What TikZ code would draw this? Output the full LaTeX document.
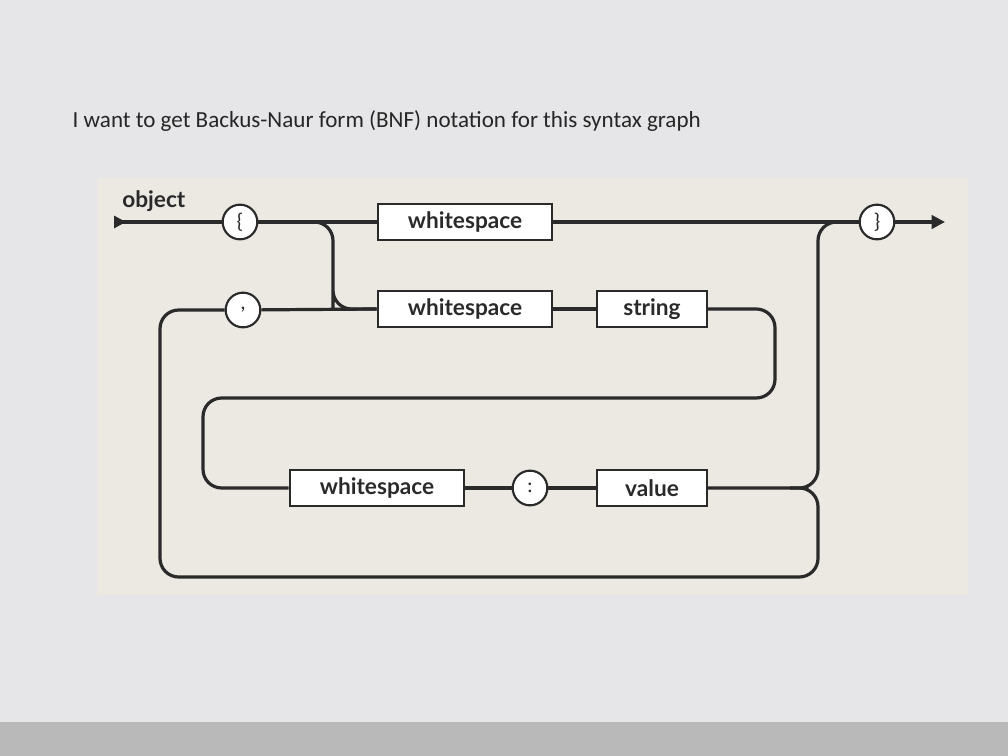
\documentclass[tikz,border=0pt]{standalone}
\usepackage{fontspec}
\setmainfont{Carlito}
\newfontfamily\gfont{Lato}
\usetikzlibrary{arrows.meta}
\definecolor{bg}{HTML}{E6E6E8}
\definecolor{panel}{HTML}{ECE9E2}
\definecolor{ln}{HTML}{2A2A2A}
\tikzset{
  box/.style={draw=ln,line width=1.6pt,fill=white,minimum height=27pt,inner xsep=6pt,font=\gfont\bfseries\fontsize{17}{20}\selectfont,text=ln},
  circ/.style={draw=ln,line width=1.6pt,fill=white,circle,minimum size=26pt,inner sep=0pt,font=\fontsize{16}{18}\selectfont,text=ln},
  rail/.style={draw=ln,line width=2.4pt,rounded corners=14pt},
}
\begin{document}
\begin{tikzpicture}[x=0.75pt,y=-0.75pt]
\fill[bg] (0,0) rectangle (1008,756);
\fill[gray!55] (0,722) rectangle (1008,756);
\fill[panel] (97,178) rectangle (968,595);
\node[anchor=west,font=\fontsize{17.3}{20}\selectfont,text=black!85] (title) at (68,121) {I want to get Backus-Naur form (BNF) notation for this syntax graph};
\node[anchor=south west,font=\gfont\bfseries\fontsize{17}{20}\selectfont,text=ln,inner sep=0pt] (obj) at (122,212) {object};
\coordinate (start) at (114,222);
\node[circ] (lb) at (240,222) {\{};
\node[box,minimum width=131pt] (ws1) at (465,222) {whitespace};
\node[circ] (rb) at (877,222) {\}};
\coordinate (end) at (945,222);
\node[circ] (comma) at (243,310) {,};
\node[box,minimum width=131pt] (ws2) at (465,309) {whitespace};
\node[box,minimum width=82pt] (str) at (652,309) {string};
\node[box,minimum width=131pt] (ws3) at (377,488) {whitespace};
\node[circ] (colon) at (530,488) {:};
\node[box,minimum width=82pt] (val) at (652,488) {value};
% rails
\draw[draw=ln,line width=2.4pt,{Triangle[reversed,length=9pt,width=9pt]}-] (start) -- (lb.west);
\draw[rail] (lb) -- (ws1);
\draw[rail] (ws1.east) -- (rb.west);
\draw[draw=ln,line width=2.4pt,-{Triangle[length=10pt,width=10pt]}] (rb.east) -- (end);
\draw[rail] (300,222) -| (333,290) |- (ws2.west);
\draw[rail] (comma) -- (ws2.west);
\draw[rail] (ws2) -- (str);
\draw[rail] (str.east) -| (775,398) -| (203,488) -- (ws3.west);
\draw[rail] (ws3) -- (colon);
\draw[rail] (colon) -- (val);
\draw[rail] (val.east) -- (790,488) -| (818,300) |- (850,222);
\draw[rail] (790,488) -| (818,577) -| (160,310) -- (comma.west);
\end{tikzpicture}
\end{document}
